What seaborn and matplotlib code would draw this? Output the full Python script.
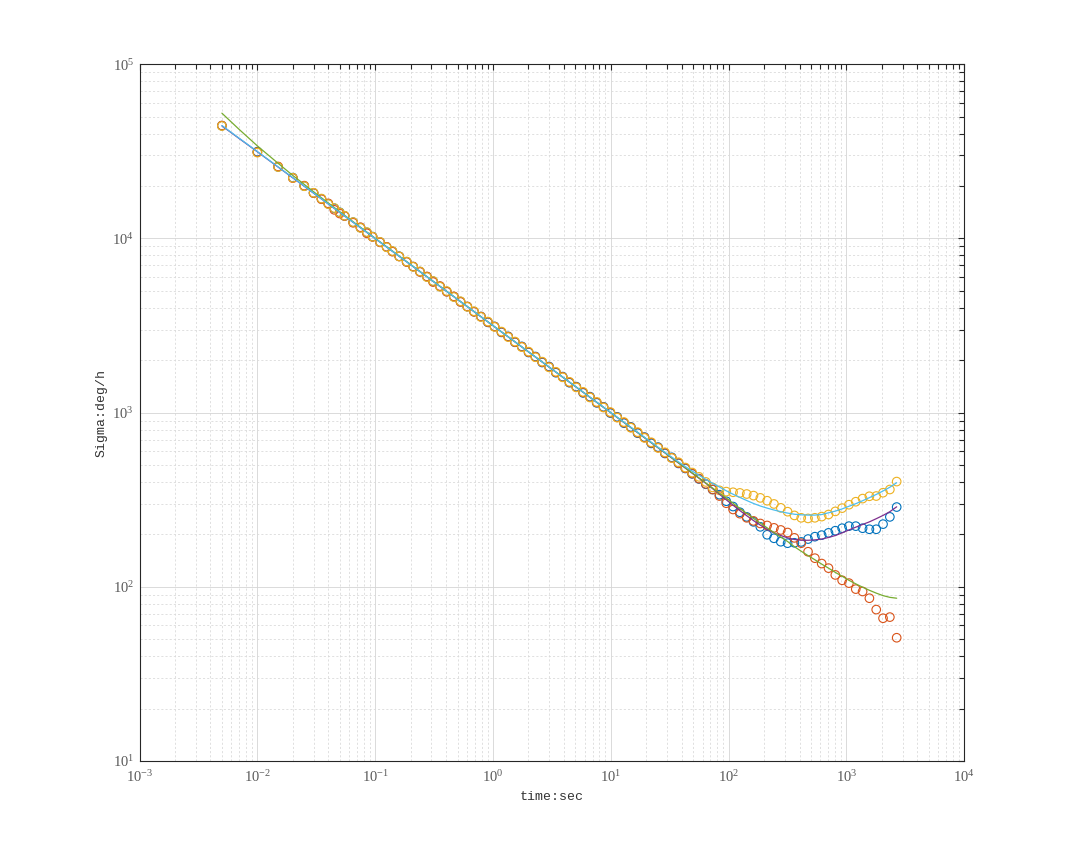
import matplotlib
matplotlib.use("Agg")
import matplotlib.pyplot as plt
import seaborn as sns
from matplotlib.ticker import LogLocator, NullFormatter, LogFormatterSciNotation

# ---------------- data ----------------
TAU = [0.005, 0.01, 0.015, 0.02, 0.025, 0.03, 0.035, 0.04, 0.045, 0.05,
       0.055, 0.065, 0.075, 0.085, 0.095, 0.11, 0.125, 0.14, 0.16, 0.185,
       0.21, 0.24, 0.275, 0.31, 0.355, 0.405, 0.465, 0.53, 0.605, 0.69,
       0.79, 0.905, 1.03, 1.18, 1.345, 1.535, 1.755, 2.005, 2.29, 2.615,
       2.99, 3.415, 3.9, 4.455, 5.09, 5.815, 6.645, 7.59, 8.67, 9.905,
       11.32, 12.93, 14.78, 16.88, 19.29, 22.04, 25.18, 28.76, 32.86, 37.55,
       42.9, 49.0, 56.0, 64.0, 73.1, 83.5, 95.4, 109, 124.5, 142.3,
       162.5, 185.7, 212.2, 242.4, 276.9, 316.4, 361.5, 413, 471.9, 539.1,
       615.9, 703.7, 804, 918.5, 1049, 1199, 1370, 1565, 1788, 2043,
       2334, 2667]

SIGMA_BLUE = [44400, 31500, 25750, 22350, 19980, 18250, 16880, 15800, 14900, 14130,
              13470, 12400, 11540, 10840, 10250, 9530, 8940, 8440, 7900, 7350,
              6890, 6450, 6030, 5680, 5300, 4960, 4630, 4340, 4060, 3800,
              3560, 3300, 3125, 2890, 2740, 2535, 2400, 2215, 2100, 1940,
              1840, 1695, 1610, 1485, 1410, 1298, 1235, 1138, 1080, 994,
              946, 870, 828, 762, 724, 666, 634, 583, 554, 511,
              478, 445, 416, 388, 362, 338, 310, 289, 268, 252,
              236, 221, 199, 190, 181.5, 178, 179, 181, 188, 194,
              198, 204, 210, 217, 223, 223, 217, 214, 214, 229,
              252, 287]

SIGMA_RED = [44500, 31300, 25900, 22200, 20100, 18200, 16800, 15900, 14600, 13900,
             13450, 12300, 11600, 10700, 10200, 9500, 8950, 8400, 7880, 7320,
             6900, 6420, 6050, 5620, 5330, 4940, 4650, 4320, 4070, 3790,
             3560, 3310, 3120, 2900, 2730, 2540, 2390, 2225, 2090, 1950,
             1830, 1705, 1602, 1493, 1402, 1306, 1228, 1144, 1074, 1001,
             940, 876, 823, 767, 720, 671, 630, 586, 550, 513,
             480, 447, 418, 390, 362, 332, 302, 278, 263, 249,
             239, 231, 225, 218, 212, 205, 191, 178, 159, 146,
             136, 128, 117, 109, 105, 97, 94, 86, 74, 66,
             67, 51]

SIGMA_YELLOW = [44200, 31100, 25700, 22300, 19950, 18300, 16950, 15750, 14950, 14100,
                13500, 12420, 11500, 10880, 10230, 9560, 8900, 8470, 7880, 7370,
                6870, 6470, 6000, 5700, 5280, 4990, 4610, 4360, 4050, 3820,
                3540, 3335, 3105, 2920, 2715, 2560, 2378, 2240, 2080, 1962,
                1820, 1716, 1595, 1503, 1396, 1316, 1222, 1152, 1070, 1008,
                936, 883, 819, 773, 716, 676, 627, 592, 549, 519,
                484, 453, 428, 400, 372, 358, 352, 349, 346, 341,
                334, 324, 312, 299, 284, 270, 257, 249, 247, 249,
                253, 260, 271, 283, 296, 308, 321, 331, 332, 347,
                362, 402]

FIT_TAU = [0.005, 0.007, 0.01, 0.015, 0.02, 0.03, 0.05, 0.1, 1, 10, 30,
           42.9, 49.0, 56.0, 64.0, 73.1, 83.5, 95.4, 109, 124.5, 142.3,
           162.5, 185.7, 212.2, 242.4, 276.9, 316.4, 361.5, 413, 471.9, 539.1,
           615.9, 703.7, 804, 918.5, 1049, 1199, 1370, 1565, 1788, 2043,
           2334, 2667]

FIT_PURPLE = [44300, 37500, 31450, 25700, 22280, 18210, 14110, 9985, 3158, 998, 575,
              480, 449, 420, 393, 366, 340, 316, 294, 274, 256,
              240, 226, 214, 204, 197, 191, 187, 185, 185, 186,
              188, 192, 197, 204, 212, 220, 228, 236, 246, 257,
              270, 288]

FIT_GREEN = [52400, 42300, 34000, 27000, 23000, 18550, 14250, 10030, 3162, 1000, 577,
             482, 451, 422, 395, 369, 345, 323, 302, 282, 264,
             247, 232, 218, 205, 193, 182, 170, 160, 151, 143,
             135, 128, 121, 115, 109, 104, 99.5, 95.5, 92, 89,
             87, 86]

FIT_CYAN = [44500, 37650, 31550, 25760, 22320, 18230, 14125, 9990, 3160, 1001, 580,
            490, 462, 437, 414, 393, 374, 356, 340, 326, 313,
            301, 291, 283, 276, 270, 265, 261, 259, 258, 258,
            260, 266, 272, 280, 290, 300, 312, 325, 339, 355,
            373, 396]

X_LABEL = "time:sec"
Y_LABEL = "Sigma:deg/h"

C_BLUE, C_RED, C_YELLOW = "#0072BD", "#D95319", "#EDB120"
C_PURPLE, C_GREEN, C_CYAN = "#7E2F8E", "#77AC30", "#4DBEEE"

# ---------------- style ----------------
sns.set_style("white")
plt.rcParams["font.family"] = ["Liberation Serif", "DejaVu Serif"]
plt.rcParams["mathtext.default"] = "regular"

fig = plt.figure(figsize=(10.66, 8.56), dpi=100)
ax = fig.add_axes([0.1309, 0.1110, 0.7737, 0.8139])
ax.set_xscale("log")
ax.set_yscale("log")

for ys, col in [(SIGMA_BLUE, C_BLUE), (SIGMA_RED, C_RED), (SIGMA_YELLOW, C_YELLOW)]:
    sns.scatterplot(x=TAU, y=ys, ax=ax, marker="o", s=38,
                    facecolors="none", edgecolor=col, linewidth=0.8, zorder=3)

for ys, col in [(FIT_PURPLE, C_PURPLE), (FIT_GREEN, C_GREEN), (FIT_CYAN, C_CYAN)]:
    sns.lineplot(x=FIT_TAU, y=ys, ax=ax, color=col, linewidth=0.9,
                 estimator=None, sort=False, zorder=4)

ax.set_xlim(1e-3, 1e4)
ax.set_ylim(1e1, 1e5)

for axis in (ax.xaxis, ax.yaxis):
    axis.set_major_locator(LogLocator(base=10, numticks=20))
    axis.set_minor_locator(LogLocator(base=10, subs=range(2, 10), numticks=100))
    axis.set_minor_formatter(NullFormatter())
    axis.set_major_formatter(LogFormatterSciNotation())

ax.grid(True, which="major", color="#d4d4d4", linewidth=0.6, linestyle="-")
ax.grid(True, which="minor", color="#dadada", linewidth=0.6, linestyle=(0, (2.5, 2.5)))
ax.set_axisbelow(True)

for sp in ax.spines.values():
    sp.set_visible(True)
    sp.set_color("#262626")
    sp.set_linewidth(0.8)

ax.tick_params(which="both", direction="in", top=True, right=True,
               color="#262626", width=0.8)
ax.tick_params(which="major", length=4.5, labelsize=10.5, labelcolor="#5a5a5a")
ax.tick_params(axis="x", which="major", pad=6)
ax.tick_params(axis="y", which="major", pad=4)
ax.tick_params(which="minor", length=3.5)

ax.set_xlabel(X_LABEL, family="Liberation Mono", fontsize=9.5, color="#333333", labelpad=4)
ax.set_ylabel(Y_LABEL, family="Liberation Mono", fontsize=9.5, color="#333333", labelpad=3)

fig.savefig("out.png", dpi=100)
